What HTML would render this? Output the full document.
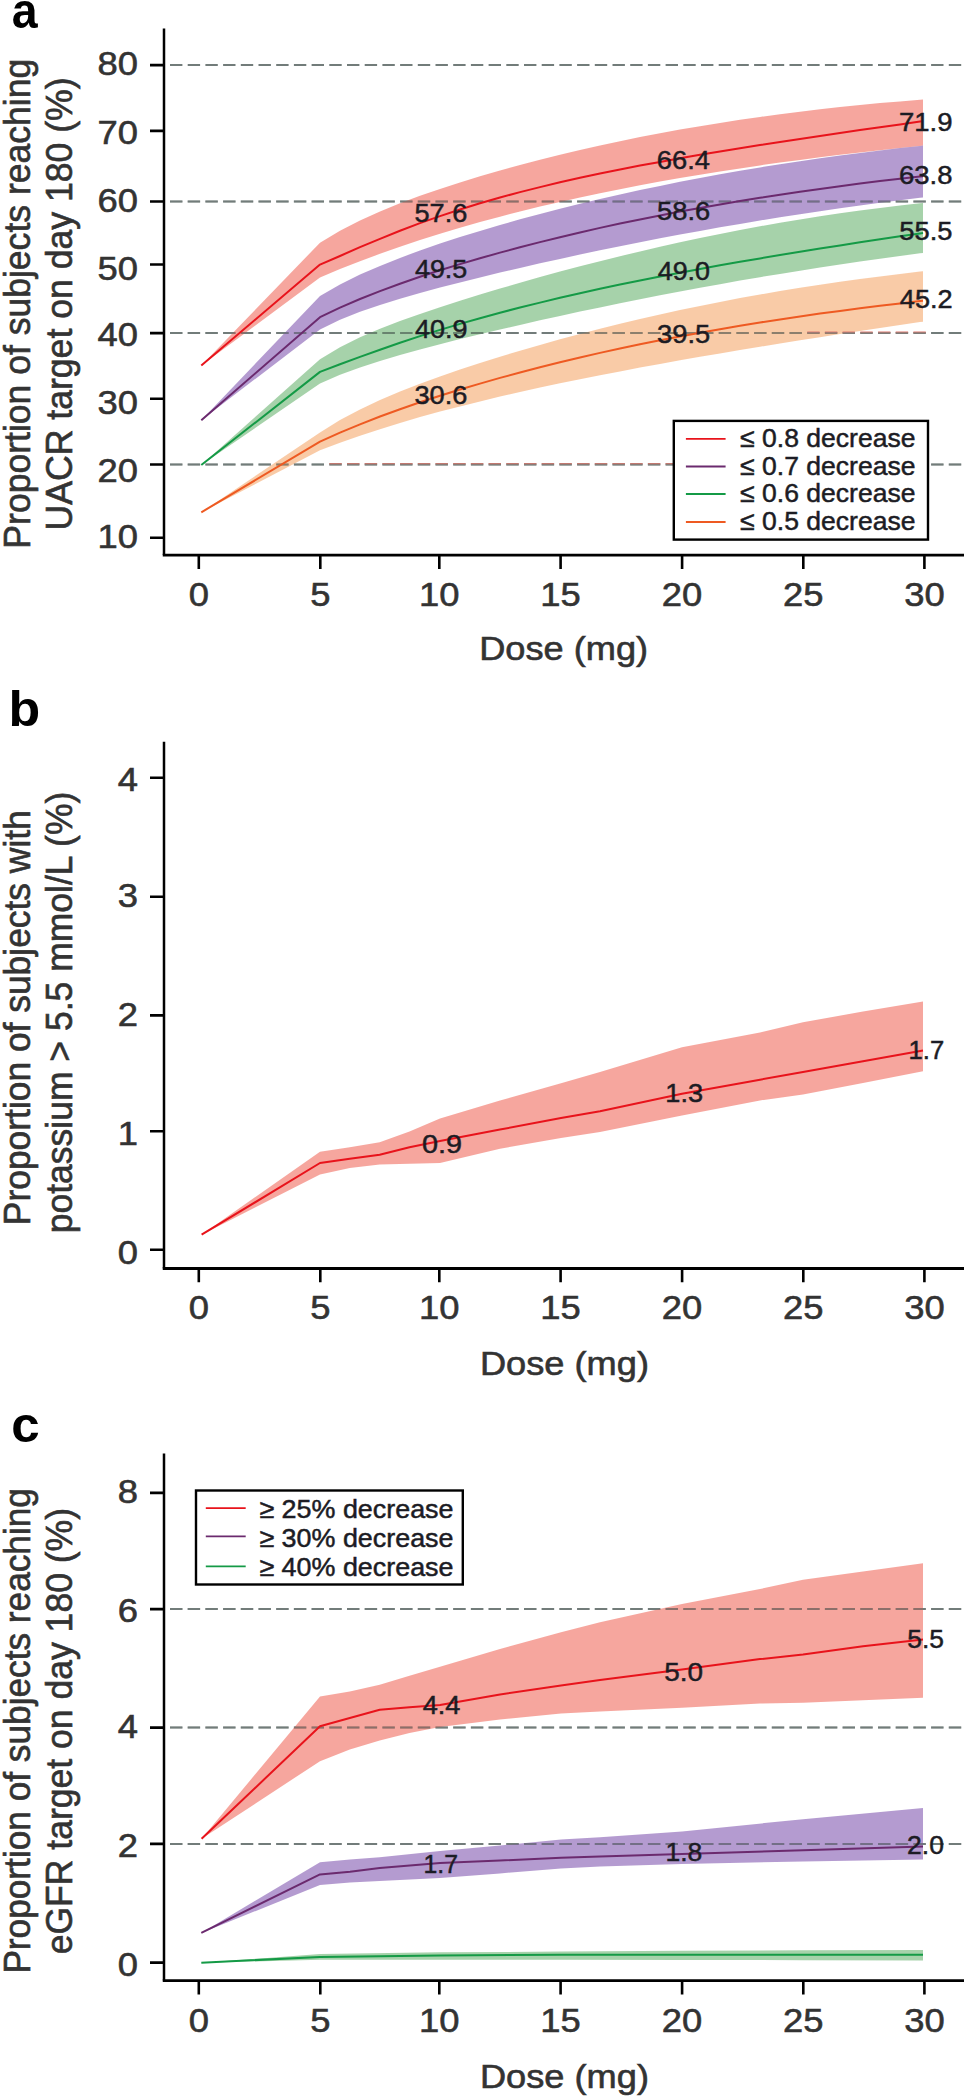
<!DOCTYPE html>
<html lang="en"><head><meta charset="utf-8"><title>Figure</title>
<style>html,body{margin:0;padding:0;background:#fff}svg{display:block}text{font-family:"Liberation Sans", Arial, Helvetica, sans-serif;stroke-width:0.6px;paint-order:stroke}.t{stroke:#333}.l{stroke:#1c1c24;stroke-width:0.5px}</style></head>
<body><svg width="964" height="2096" viewBox="0 0 964 2096">
<rect width="964" height="2096" fill="#fff"/>
<path d="M170 65.1H964" stroke="#727c7a" stroke-width="2.0" stroke-dasharray="12.4 5.3" fill="none"/>
<path d="M170 201.5H964" stroke="#727c7a" stroke-width="2.0" stroke-dasharray="12.4 5.3" fill="none"/>
<path d="M170 333.1H964" stroke="#727c7a" stroke-width="2.0" stroke-dasharray="12.4 5.3" fill="none"/>
<path d="M170 464.5H964" stroke="#727c7a" stroke-width="2.0" stroke-dasharray="12.4 5.3" fill="none"/>
<polygon points="201.3,365.5 320.0,242.7 340.0,230.7 360.0,220.4 380.0,211.4 400.0,203.3 420.0,195.8 440.0,188.9 460.0,182.4 480.0,176.3 500.0,170.4 520.0,164.9 540.0,159.7 560.0,154.7 580.0,150.0 600.0,145.5 620.0,141.2 640.0,137.1 660.0,133.3 680.0,129.6 700.0,126.2 720.0,122.9 740.0,119.8 760.0,116.9 780.0,114.2 800.0,111.7 820.0,109.3 840.0,107.1 860.0,105.0 880.0,103.1 900.0,101.4 920.0,99.8 923.0,99.5 923.0,145.6 920.0,145.9 900.0,148.0 880.0,150.2 860.0,152.4 840.0,154.8 820.0,157.3 800.0,159.9 780.0,162.6 760.0,165.4 740.0,168.4 720.0,171.5 700.0,174.7 680.0,178.1 660.0,181.6 640.0,185.3 620.0,189.2 600.0,193.2 580.0,197.5 560.0,201.9 540.0,206.6 520.0,211.5 500.0,216.7 480.0,222.1 460.0,227.8 440.0,233.8 420.0,240.1 400.0,246.7 380.0,253.8 360.0,261.2 340.0,269.1 320.0,277.4 201.3,365.5" fill="rgba(236,70,52,0.48)"/>
<polygon points="201.3,420.2 320.0,296.0 340.0,284.5 360.0,274.6 380.0,265.9 400.0,257.9 420.0,250.5 440.0,243.6 460.0,237.1 480.0,230.9 500.0,225.0 520.0,219.3 540.0,213.9 560.0,208.7 580.0,203.8 600.0,199.0 620.0,194.4 640.0,190.1 660.0,185.9 680.0,181.8 700.0,178.0 720.0,174.3 740.0,170.8 760.0,167.4 780.0,164.2 800.0,161.2 820.0,158.3 840.0,155.5 860.0,152.9 880.0,150.4 900.0,148.1 920.0,145.9 923.0,145.6 923.0,197.4 920.0,197.8 900.0,200.2 880.0,202.8 860.0,205.5 840.0,208.3 820.0,211.2 800.0,214.2 780.0,217.3 760.0,220.5 740.0,223.9 720.0,227.3 700.0,230.9 680.0,234.5 660.0,238.3 640.0,242.2 620.0,246.2 600.0,250.3 580.0,254.5 560.0,258.9 540.0,263.3 520.0,267.9 500.0,272.6 480.0,277.4 460.0,282.4 440.0,287.6 420.0,293.0 400.0,298.7 380.0,304.9 360.0,311.8 340.0,319.8 320.0,329.4 201.3,420.2" fill="rgba(118,72,170,0.55)"/>
<polygon points="201.3,465.0 320.0,359.3 340.0,347.2 360.0,337.2 380.0,328.7 400.0,321.0 420.0,313.9 440.0,307.2 460.0,300.8 480.0,294.6 500.0,288.6 520.0,282.8 540.0,277.1 560.0,271.6 580.0,266.3 600.0,261.2 620.0,256.2 640.0,251.4 660.0,246.7 680.0,242.3 700.0,238.0 720.0,233.9 740.0,230.0 760.0,226.3 780.0,222.8 800.0,219.4 820.0,216.3 840.0,213.3 860.0,210.5 880.0,207.9 900.0,205.5 920.0,203.3 923.0,202.9 923.0,252.9 920.0,253.3 900.0,256.0 880.0,258.7 860.0,261.6 840.0,264.5 820.0,267.5 800.0,270.7 780.0,273.9 760.0,277.2 740.0,280.6 720.0,284.2 700.0,287.8 680.0,291.5 660.0,295.3 640.0,299.3 620.0,303.3 600.0,307.4 580.0,311.6 560.0,315.9 540.0,320.3 520.0,324.9 500.0,329.5 480.0,334.2 460.0,339.1 440.0,344.2 420.0,349.4 400.0,355.0 380.0,360.9 360.0,367.4 340.0,374.8 320.0,383.6 201.3,465.0" fill="rgba(66,160,74,0.47)"/>
<polygon points="201.3,512.3 320.0,432.5 340.0,420.0 360.0,409.4 380.0,400.1 400.0,391.6 420.0,383.8 440.0,376.5 460.0,369.6 480.0,363.0 500.0,356.7 520.0,350.7 540.0,344.9 560.0,339.3 580.0,333.9 600.0,328.8 620.0,323.8 640.0,319.0 660.0,314.5 680.0,310.1 700.0,305.9 720.0,301.9 740.0,298.1 760.0,294.5 780.0,291.1 800.0,287.8 820.0,284.7 840.0,281.7 860.0,279.0 880.0,276.4 900.0,273.9 920.0,271.6 923.0,271.3 923.0,321.7 920.0,322.1 900.0,325.0 880.0,328.0 860.0,331.0 840.0,334.1 820.0,337.2 800.0,340.3 780.0,343.5 760.0,346.7 740.0,350.0 720.0,353.4 700.0,356.8 680.0,360.3 660.0,363.9 640.0,367.6 620.0,371.4 600.0,375.2 580.0,379.2 560.0,383.3 540.0,387.6 520.0,392.0 500.0,396.6 480.0,401.4 460.0,406.4 440.0,411.6 420.0,417.1 400.0,423.0 380.0,429.2 360.0,435.7 340.0,442.8 320.0,450.3 201.3,512.3" fill="rgba(242,140,60,0.45)"/>
<path d="M329.3 463.8H674" stroke="#e0786e" stroke-width="1.6" stroke-dasharray="12.4 5.3" fill="none"/>
<path d="M807.2 332.4H926" stroke="#e0786e" stroke-width="1.6" stroke-dasharray="12.4 5.3" fill="none"/>
<path d="M170 201.5H964" stroke="#727c7a" stroke-width="2.0" stroke-dasharray="12.4 5.3" fill="none" stroke-opacity="0.55"/>
<path d="M170 333.1H964" stroke="#727c7a" stroke-width="2.0" stroke-dasharray="12.4 5.3" fill="none" stroke-opacity="0.55"/>
<path d="M170 464.5H964" stroke="#727c7a" stroke-width="2.0" stroke-dasharray="12.4 5.3" fill="none" stroke-opacity="0.55"/>
<polyline points="201.3,365.5 320.0,264.6 340.0,256.0 360.0,247.2 380.0,238.8 400.0,230.7 420.0,223.1 440.0,216.1 460.0,209.5 480.0,203.3 500.0,197.5 520.0,192.1 540.0,187.1 560.0,182.3 580.0,177.8 600.0,173.5 620.0,169.5 640.0,165.6 660.0,161.9 680.0,158.3 700.0,154.8 720.0,151.5 740.0,148.3 760.0,145.1 780.0,142.0 800.0,139.0 820.0,136.0 840.0,133.0 860.0,130.1 880.0,127.3 900.0,124.4 920.0,121.6 923.0,121.2" fill="none" stroke="#e8131b" stroke-width="2.0" stroke-linejoin="round"/>
<polyline points="201.3,420.2 320.0,317.2 340.0,307.6 360.0,299.0 380.0,291.1 400.0,283.7 420.0,276.8 440.0,270.3 460.0,264.1 480.0,258.3 500.0,252.6 520.0,247.3 540.0,242.1 560.0,237.2 580.0,232.5 600.0,227.9 620.0,223.6 640.0,219.4 660.0,215.4 680.0,211.6 700.0,207.9 720.0,204.4 740.0,201.0 760.0,197.8 780.0,194.7 800.0,191.7 820.0,188.9 840.0,186.2 860.0,183.6 880.0,181.1 900.0,178.8 920.0,176.5 923.0,176.2" fill="none" stroke="#6b2a6e" stroke-width="2.0" stroke-linejoin="round"/>
<polyline points="201.3,465.0 320.0,371.9 340.0,364.3 360.0,356.9 380.0,349.7 400.0,342.7 420.0,336.1 440.0,329.9 460.0,323.9 480.0,318.2 500.0,312.7 520.0,307.5 540.0,302.6 560.0,297.8 580.0,293.2 600.0,288.8 620.0,284.6 640.0,280.5 660.0,276.5 680.0,272.7 700.0,269.0 720.0,265.3 740.0,261.8 760.0,258.4 780.0,255.0 800.0,251.7 820.0,248.5 840.0,245.4 860.0,242.3 880.0,239.3 900.0,236.3 920.0,233.4 923.0,232.9" fill="none" stroke="#149a46" stroke-width="2.0" stroke-linejoin="round"/>
<polyline points="201.3,512.3 320.0,441.7 340.0,432.6 360.0,424.3 380.0,416.5 400.0,409.2 420.0,402.3 440.0,395.8 460.0,389.5 480.0,383.6 500.0,377.9 520.0,372.5 540.0,367.3 560.0,362.3 580.0,357.5 600.0,352.9 620.0,348.5 640.0,344.3 660.0,340.3 680.0,336.4 700.0,332.7 720.0,329.2 740.0,325.8 760.0,322.5 780.0,319.4 800.0,316.4 820.0,313.6 840.0,310.9 860.0,308.3 880.0,305.8 900.0,303.4 920.0,301.1 923.0,300.8" fill="none" stroke="#ee5a22" stroke-width="2.0" stroke-linejoin="round"/>
<path d="M164 28.6V555.1" fill="none" stroke="#000" stroke-width="2.5"/>
<path d="M162.75 555.1H964" fill="none" stroke="#000" stroke-width="2.8"/>
<path d="M150 65.1H164M150 130.9H164M150 201.5H164M150 264.5H164M150 333.1H164M150 398.8H164M150 464.5H164M150 537.7H164" stroke="#000" stroke-width="2.6" fill="none"/>
<path d="M198.8 555.1V568.9M320.3 555.1V568.9M439.3 555.1V568.9M560.6 555.1V568.9M682.1 555.1V568.9M803.3 555.1V568.9M924.4 555.1V568.9" stroke="#000" stroke-width="2.6" fill="none"/>
<text transform="translate(138.00,75.40) scale(1.0700,1)" font-size="34" fill="#333333" text-anchor="end" class="t">80</text>
<text transform="translate(138.00,143.60) scale(1.0700,1)" font-size="34" fill="#333333" text-anchor="end" class="t">70</text>
<text transform="translate(138.00,211.80) scale(1.0700,1)" font-size="34" fill="#333333" text-anchor="end" class="t">60</text>
<text transform="translate(138.00,280.00) scale(1.0700,1)" font-size="34" fill="#333333" text-anchor="end" class="t">50</text>
<text transform="translate(138.00,345.90) scale(1.0700,1)" font-size="34" fill="#333333" text-anchor="end" class="t">40</text>
<text transform="translate(138.00,414.10) scale(1.0700,1)" font-size="34" fill="#333333" text-anchor="end" class="t">30</text>
<text transform="translate(138.00,482.40) scale(1.0700,1)" font-size="34" fill="#333333" text-anchor="end" class="t">20</text>
<text transform="translate(138.00,547.50) scale(1.0700,1)" font-size="34" fill="#333333" text-anchor="end" class="t">10</text>
<text transform="translate(198.80,605.50) scale(1.0700,1)" font-size="34" fill="#333333" text-anchor="middle" class="t">0</text>
<text transform="translate(320.30,605.50) scale(1.0700,1)" font-size="34" fill="#333333" text-anchor="middle" class="t">5</text>
<text transform="translate(439.30,605.50) scale(1.0700,1)" font-size="34" fill="#333333" text-anchor="middle" class="t">10</text>
<text transform="translate(560.60,605.50) scale(1.0700,1)" font-size="34" fill="#333333" text-anchor="middle" class="t">15</text>
<text transform="translate(682.10,605.50) scale(1.0700,1)" font-size="34" fill="#333333" text-anchor="middle" class="t">20</text>
<text transform="translate(803.30,605.50) scale(1.0700,1)" font-size="34" fill="#333333" text-anchor="middle" class="t">25</text>
<text transform="translate(924.40,605.50) scale(1.0700,1)" font-size="34" fill="#333333" text-anchor="middle" class="t">30</text>
<text transform="translate(479.20,659.80) scale(1.0647,1)" font-size="34" fill="#333333" class="t">Dose (mg)</text>
<text transform="translate(30.00,548.64) rotate(-90) scale(1.0454,1.07)" font-size="34" fill="#333333" class="t">Proportion of subjects reaching</text>
<text transform="translate(71.60,530.47) rotate(-90) scale(1.0470,1.07)" font-size="34" fill="#333333" class="t">UACR target on day 180 (%)</text>
<text transform="translate(11.70,27.80) scale(0.9216,1)" font-size="50.5" fill="#000" font-weight="bold">a</text>
<text transform="translate(414.41,221.80) scale(1.0258,1)" font-size="26.5" fill="#1c1c24" class="l">57.6</text>
<text transform="translate(414.96,277.50) scale(1.0150,1)" font-size="26.5" fill="#1c1c24" class="l">49.5</text>
<text transform="translate(414.96,338.20) scale(1.0177,1)" font-size="26.5" fill="#1c1c24" class="l">40.9</text>
<text transform="translate(414.41,403.70) scale(1.0258,1)" font-size="26.5" fill="#1c1c24" class="l">30.6</text>
<text transform="translate(656.84,169.10) scale(1.0299,1)" font-size="26.5" fill="#1c1c24" class="l">66.4</text>
<text transform="translate(657.11,220.00) scale(1.0299,1)" font-size="26.5" fill="#1c1c24" class="l">58.6</text>
<text transform="translate(657.66,280.00) scale(1.0163,1)" font-size="26.5" fill="#1c1c24" class="l">49.0</text>
<text transform="translate(657.11,343.00) scale(1.0299,1)" font-size="26.5" fill="#1c1c24" class="l">39.5</text>
<text transform="translate(899.02,130.80) scale(1.0382,1)" font-size="26.5" fill="#1c1c24" class="l">71.9</text>
<text transform="translate(899.03,183.70) scale(1.0354,1)" font-size="26.5" fill="#1c1c24" class="l">63.8</text>
<text transform="translate(899.31,239.70) scale(1.0299,1)" font-size="26.5" fill="#1c1c24" class="l">55.5</text>
<text transform="translate(899.86,307.70) scale(1.0244,1)" font-size="26.5" fill="#1c1c24" class="l">45.2</text>
<rect x="673.8" y="420.9" width="254.2" height="118.7" fill="#fff" stroke="#000" stroke-width="2.4"/>
<path d="M685.9 438.8H725.6" stroke="#e8131b" stroke-width="1.8"/>
<text transform="translate(740.10,447.20) scale(1.0021,1)" font-size="26.5" fill="#1c1c24" class="l">≤ 0.8 decrease</text>
<path d="M685.9 466.5H725.6" stroke="#6b2a6e" stroke-width="1.8"/>
<text transform="translate(740.10,474.90) scale(1.0021,1)" font-size="26.5" fill="#1c1c24" class="l">≤ 0.7 decrease</text>
<path d="M685.9 494H725.6" stroke="#149a46" stroke-width="1.8"/>
<text transform="translate(740.10,502.40) scale(1.0021,1)" font-size="26.5" fill="#1c1c24" class="l">≤ 0.6 decrease</text>
<path d="M685.9 522H725.6" stroke="#ee5a22" stroke-width="1.8"/>
<text transform="translate(740.10,530.40) scale(1.0021,1)" font-size="26.5" fill="#1c1c24" class="l">≤ 0.5 decrease</text>
<polygon points="201.6,1234.7 320.0,1151.7 349.8,1147.2 379.7,1142.2 409.5,1131.5 440.0,1118.5 500.0,1100.6 561.0,1083.2 600.0,1072.0 682.0,1047.3 760.0,1032.4 803.0,1022.3 863.0,1011.5 923.0,1001.6 923.0,1071.3 863.0,1082.9 803.0,1094.5 760.0,1100.4 682.0,1115.4 600.0,1132.0 561.0,1137.9 500.0,1148.7 440.0,1163.0 409.5,1163.8 379.7,1164.6 349.8,1168.0 320.0,1174.6 201.6,1234.7" fill="rgba(236,70,52,0.48)"/>
<polyline points="201.6,1234.7 320.0,1163.0 349.8,1158.8 379.7,1154.7 409.5,1147.2 440.0,1141.1 500.0,1129.6 561.0,1118.0 600.0,1111.3 682.0,1093.8 760.0,1079.7 803.0,1072.1 863.0,1061.3 923.0,1050.5" fill="none" stroke="#e8131b" stroke-width="2.0" stroke-linejoin="round"/>
<path d="M164 741.8V1268.5" fill="none" stroke="#000" stroke-width="2.5"/>
<path d="M162.75 1268.5H964" fill="none" stroke="#000" stroke-width="2.8"/>
<path d="M150 777.7H164M150 896.7H164M150 1015.4H164M150 1131.2H164M150 1249.7H164" stroke="#000" stroke-width="2.6" fill="none"/>
<path d="M198.8 1268.5V1282.3M320.3 1268.5V1282.3M439.3 1268.5V1282.3M560.6 1268.5V1282.3M682.1 1268.5V1282.3M803.3 1268.5V1282.3M924.4 1268.5V1282.3" stroke="#000" stroke-width="2.6" fill="none"/>
<text transform="translate(138.00,790.50) scale(1.0700,1)" font-size="34" fill="#333333" text-anchor="end" class="t">4</text>
<text transform="translate(138.00,907.30) scale(1.0700,1)" font-size="34" fill="#333333" text-anchor="end" class="t">3</text>
<text transform="translate(138.00,1025.80) scale(1.0700,1)" font-size="34" fill="#333333" text-anchor="end" class="t">2</text>
<text transform="translate(138.00,1144.50) scale(1.0700,1)" font-size="34" fill="#333333" text-anchor="end" class="t">1</text>
<text transform="translate(138.00,1263.50) scale(1.0700,1)" font-size="34" fill="#333333" text-anchor="end" class="t">0</text>
<text transform="translate(198.80,1319.30) scale(1.0700,1)" font-size="34" fill="#333333" text-anchor="middle" class="t">0</text>
<text transform="translate(320.30,1319.30) scale(1.0700,1)" font-size="34" fill="#333333" text-anchor="middle" class="t">5</text>
<text transform="translate(439.30,1319.30) scale(1.0700,1)" font-size="34" fill="#333333" text-anchor="middle" class="t">10</text>
<text transform="translate(560.60,1319.30) scale(1.0700,1)" font-size="34" fill="#333333" text-anchor="middle" class="t">15</text>
<text transform="translate(682.10,1319.30) scale(1.0700,1)" font-size="34" fill="#333333" text-anchor="middle" class="t">20</text>
<text transform="translate(803.30,1319.30) scale(1.0700,1)" font-size="34" fill="#333333" text-anchor="middle" class="t">25</text>
<text transform="translate(924.40,1319.30) scale(1.0700,1)" font-size="34" fill="#333333" text-anchor="middle" class="t">30</text>
<text transform="translate(479.90,1375.10) scale(1.0660,1)" font-size="34" fill="#333333" class="t">Dose (mg)</text>
<text transform="translate(30.00,1225.13) rotate(-90) scale(1.0408,1.07)" font-size="34" fill="#333333" class="t">Proportion of subjects with</text>
<text transform="translate(71.60,1233.31) rotate(-90) scale(1.0443,1.07)" font-size="34" fill="#333333" class="t">potassium &gt; 5.5 mmol/L (%)</text>
<text transform="translate(8.43,725.60) scale(1.0481,1)" font-size="49.5" fill="#000" font-weight="bold">b</text>
<text transform="translate(422.05,1153.00) scale(1.0873,1)" font-size="26.5" fill="#1c1c24" class="l">0.9</text>
<text transform="translate(665.36,1101.70) scale(1.0240,1)" font-size="26.5" fill="#1c1c24" class="l">1.3</text>
<text transform="translate(908.57,1058.90) scale(0.9695,1)" font-size="26.5" fill="#1c1c24" class="l">1.7</text>
<path d="M170 1609H964" stroke="#727c7a" stroke-width="2.0" stroke-dasharray="12.4 5.3" fill="none"/>
<path d="M170 1727.6H964" stroke="#727c7a" stroke-width="2.0" stroke-dasharray="12.4 5.3" fill="none"/>
<path d="M170 1844.1H964" stroke="#727c7a" stroke-width="2.0" stroke-dasharray="12.4 5.3" fill="none"/>
<polygon points="201.6,1838.8 320.0,1696.4 349.8,1691.5 379.7,1684.8 409.5,1675.7 440.0,1666.8 500.0,1648.9 561.0,1632.3 600.0,1622.3 682.0,1604.0 760.0,1589.0 803.0,1579.8 863.0,1571.5 923.0,1563.2 923.0,1697.7 863.0,1700.2 803.0,1702.7 760.0,1703.6 682.0,1707.7 600.0,1711.5 561.0,1713.6 500.0,1719.4 440.0,1727.0 409.5,1732.9 379.7,1740.4 349.8,1749.5 320.0,1761.2 201.6,1838.8" fill="rgba(236,70,52,0.48)"/>
<polygon points="201.3,1932.9 320.0,1862.3 350.0,1859.5 379.7,1857.2 440.0,1851.0 500.0,1845.6 561.0,1839.4 600.0,1837.3 682.0,1831.5 803.0,1819.2 923.0,1808.0 923.0,1859.5 803.0,1861.4 682.0,1864.0 600.0,1866.5 561.0,1868.5 500.0,1873.4 440.0,1878.0 379.7,1881.0 350.0,1882.4 320.0,1885.1 201.3,1932.9" fill="rgba(118,72,170,0.55)"/>
<polygon points="201.3,1962.7 320.0,1954.1 440.0,1952.3 561.0,1951.6 682.0,1950.8 803.0,1950.2 923.0,1949.9 923.0,1960.4 803.0,1960.2 682.0,1959.9 561.0,1959.7 440.0,1959.7 320.0,1959.8 201.3,1962.7" fill="rgba(66,160,74,0.47)"/>
<path d="M170 1609H964" stroke="#727c7a" stroke-width="2.0" stroke-dasharray="12.4 5.3" fill="none" stroke-opacity="0.55"/>
<path d="M170 1727.6H964" stroke="#727c7a" stroke-width="2.0" stroke-dasharray="12.4 5.3" fill="none" stroke-opacity="0.55"/>
<path d="M170 1844.1H964" stroke="#727c7a" stroke-width="2.0" stroke-dasharray="12.4 5.3" fill="none" stroke-opacity="0.55"/>
<polyline points="201.6,1838.8 320.0,1726.3 349.8,1718.0 379.7,1709.7 409.5,1707.2 440.0,1705.0 500.0,1694.5 561.0,1685.4 600.0,1680.0 682.0,1669.5 760.0,1659.1 803.0,1654.5 863.0,1646.2 923.0,1639.6" fill="none" stroke="#e8131b" stroke-width="2.0" stroke-linejoin="round"/>
<polyline points="201.3,1932.9 320.0,1874.4 350.0,1871.8 379.7,1868.0 440.0,1863.1 500.0,1860.5 561.0,1857.8 600.0,1856.4 682.0,1853.9 803.0,1850.2 923.0,1846.5" fill="none" stroke="#6b2a6e" stroke-width="2.0" stroke-linejoin="round"/>
<polyline points="201.3,1962.7 320.0,1956.9 440.0,1955.5 561.0,1954.8 682.0,1954.8 803.0,1954.8 923.0,1954.8" fill="none" stroke="#149a46" stroke-width="2.0" stroke-linejoin="round"/>
<path d="M164 1453.5V1980.6" fill="none" stroke="#000" stroke-width="2.5"/>
<path d="M162.75 1980.6H964" fill="none" stroke="#000" stroke-width="2.8"/>
<path d="M150 1492.9H164M150 1609.1H164M150 1727.6H164M150 1843.9H164M150 1962.6H164" stroke="#000" stroke-width="2.6" fill="none"/>
<path d="M198.8 1980.6V1994.3999999999999M320.3 1980.6V1994.3999999999999M439.3 1980.6V1994.3999999999999M560.6 1980.6V1994.3999999999999M682.1 1980.6V1994.3999999999999M803.3 1980.6V1994.3999999999999M924.4 1980.6V1994.3999999999999" stroke="#000" stroke-width="2.6" fill="none"/>
<text transform="translate(138.00,1503.40) scale(1.0700,1)" font-size="34" fill="#333333" text-anchor="end" class="t">8</text>
<text transform="translate(138.00,1621.50) scale(1.0700,1)" font-size="34" fill="#333333" text-anchor="end" class="t">6</text>
<text transform="translate(138.00,1738.30) scale(1.0700,1)" font-size="34" fill="#333333" text-anchor="end" class="t">4</text>
<text transform="translate(138.00,1856.80) scale(1.0700,1)" font-size="34" fill="#333333" text-anchor="end" class="t">2</text>
<text transform="translate(138.00,1976.00) scale(1.0700,1)" font-size="34" fill="#333333" text-anchor="end" class="t">0</text>
<text transform="translate(198.80,2031.80) scale(1.0700,1)" font-size="34" fill="#333333" text-anchor="middle" class="t">0</text>
<text transform="translate(320.30,2031.80) scale(1.0700,1)" font-size="34" fill="#333333" text-anchor="middle" class="t">5</text>
<text transform="translate(439.30,2031.80) scale(1.0700,1)" font-size="34" fill="#333333" text-anchor="middle" class="t">10</text>
<text transform="translate(560.60,2031.80) scale(1.0700,1)" font-size="34" fill="#333333" text-anchor="middle" class="t">15</text>
<text transform="translate(682.10,2031.80) scale(1.0700,1)" font-size="34" fill="#333333" text-anchor="middle" class="t">20</text>
<text transform="translate(803.30,2031.80) scale(1.0700,1)" font-size="34" fill="#333333" text-anchor="middle" class="t">25</text>
<text transform="translate(924.40,2031.80) scale(1.0700,1)" font-size="34" fill="#333333" text-anchor="middle" class="t">30</text>
<text transform="translate(479.90,2087.60) scale(1.0660,1)" font-size="34" fill="#333333" class="t">Dose (mg)</text>
<text transform="translate(30.00,1973.62) rotate(-90) scale(1.0365,1.07)" font-size="34" fill="#333333" class="t">Proportion of subjects reaching</text>
<text transform="translate(71.60,1954.32) rotate(-90) scale(1.0455,1.07)" font-size="34" fill="#333333" class="t">eGFR target on day 180 (%)</text>
<text transform="translate(11.15,1441.50) scale(1.0126,1)" font-size="50.5" fill="#000" font-weight="bold">c</text>
<text transform="translate(422.66,1713.50) scale(1.0222,1)" font-size="26.5" fill="#1c1c24" class="l">4.4</text>
<text transform="translate(423.44,1873.20) scale(0.9367,1)" font-size="26.5" fill="#1c1c24" class="l">1.7</text>
<text transform="translate(664.18,1680.90) scale(1.0532,1)" font-size="26.5" fill="#1c1c24" class="l">5.0</text>
<text transform="translate(907.34,1648.20) scale(0.9967,1)" font-size="26.5" fill="#1c1c24" class="l">5.5</text>
<text transform="translate(665.41,1861.10) scale(1.0004,1)" font-size="26.5" fill="#1c1c24" class="l">1.8</text>
<text transform="translate(907.07,1853.50) scale(1.0005,1)" font-size="26.5" fill="#1c1c24" class="l">2.0</text>
<rect x="196" y="1490.5" width="266.8" height="94" fill="#fff" stroke="#000" stroke-width="2.4"/>
<path d="M205.8 1508.2H245.7" stroke="#e8131b" stroke-width="1.8"/>
<text transform="translate(259.39,1518.00) scale(1.0151,1)" font-size="26.5" fill="#1c1c24" class="l">≥ 25% decrease</text>
<path d="M205.8 1536.4H245.7" stroke="#6b2a6e" stroke-width="1.8"/>
<text transform="translate(259.39,1546.60) scale(1.0151,1)" font-size="26.5" fill="#1c1c24" class="l">≥ 30% decrease</text>
<path d="M205.8 1566.3H245.7" stroke="#149a46" stroke-width="1.8"/>
<text transform="translate(259.39,1575.50) scale(1.0151,1)" font-size="26.5" fill="#1c1c24" class="l">≥ 40% decrease</text>
</svg></body></html>
